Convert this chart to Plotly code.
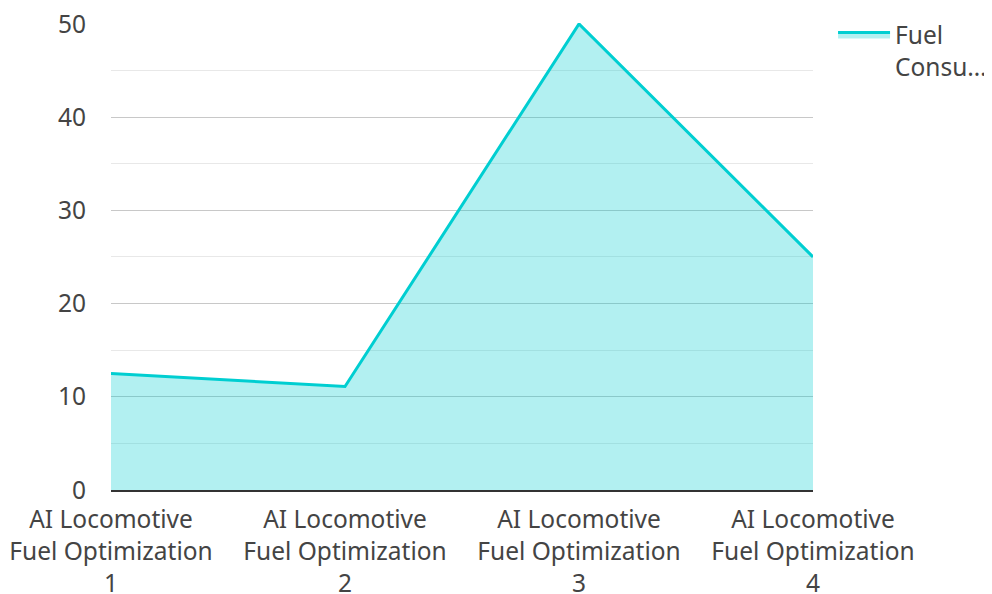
import plotly.graph_objects as go

categories = ["AI Locomotive<br>Fuel Optimization<br>1", "AI Locomotive<br>Fuel Optimization<br>2",
              "AI Locomotive<br>Fuel Optimization<br>3", "AI Locomotive<br>Fuel Optimization<br>4"]
fuel_values = [12.5, 11.1, 50, 25]
series_name = "Fuel<br>Consu…"
y_ticks = [0, 10, 20, 30, 40, 50]

fig = go.Figure()
fig.add_trace(go.Scatter(
    x=categories, y=fuel_values, mode="lines", name=series_name,
    line=dict(color="#00CED1", width=3),
    fill="tozeroy", fillcolor="rgba(0,206,209,0.3)",
    showlegend=True,
))

fig.update_layout(
    width=992, height=594,
    margin=dict(l=103, r=187, t=15, b=112),
    paper_bgcolor="white", plot_bgcolor="white",
    font=dict(family="Noto Sans", size=24.5, color="#444444"),
    showlegend=True,
    legend=dict(xref="container", yref="container", x=0.8317, y=0.9933,
                xanchor="left", yanchor="top", itemwidth=52, valign="top",
                font=dict(size=24.5, color="#444444"), bgcolor="rgba(0,0,0,0)"),
    xaxis=dict(type="category", range=[0, 3], showgrid=False, automargin=False,
               showline=True, linecolor="#333333", linewidth=2,
               ticks="", ticklabelstandoff=7, tickfont=dict(size=24.5, color="#444444")),
    yaxis=dict(range=[0, 50.1], tickvals=y_ticks, showgrid=True, gridcolor="#c8c8c8", gridwidth=1,
               automargin=False, ticklabeloverflow="allow",
               minor=dict(dtick=5, showgrid=True, gridcolor="#e8e8e8", gridwidth=1),
               zeroline=False, showline=False, ticks="", ticklabelstandoff=24,
               tickfont=dict(size=24.5, color="#444444")),
)

fig.write_html("out.html")
